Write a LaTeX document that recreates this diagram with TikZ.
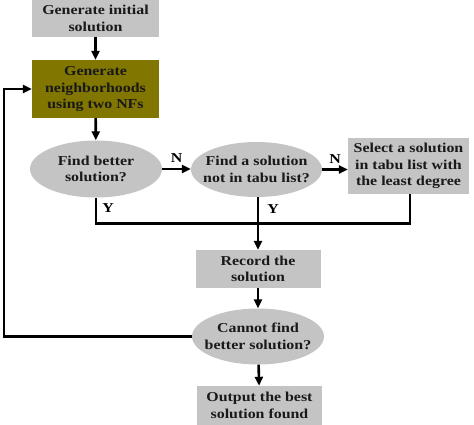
\documentclass[tikz,border=0pt]{standalone}
\usepackage{fontspec}
\setmainfont{Liberation Serif}[FakeStretch=1.17]
\usetikzlibrary{shapes.geometric,arrows.meta}
\definecolor{boxgray}{RGB}{196,196,196}
\definecolor{olivebox}{RGB}{128,118,0}
\begin{document}
\begin{tikzpicture}[x=1pt,y=-1pt,
  txt/.style={font=\fontsize{13.6}{16.5}\selectfont\bfseries, align=center, text=black!90, inner sep=0pt},
  rbox/.style={txt, rectangle, fill=boxgray},
  obox/.style={txt, rectangle, fill=olivebox},
  ebox/.style={txt, rectangle},
  efill/.style={fill=boxgray},
  conn/.style={line width=2.6pt},
  arr/.style={conn, -{Triangle[length=9pt,width=8pt]}},
  lab/.style={font=\fontsize{13.6}{16}\selectfont\bfseries, inner sep=0pt}]
\useasboundingbox (0,0) rectangle (474,425);
\node[rbox, minimum width=127pt, minimum height=37pt] (b1) at (95.5,18.5) {Generate initial\\solution};
\node[obox, minimum width=127pt, minimum height=58pt] (b2) at (95.5,89) {Generate\\neighborhoods\\using two NFs};
\fill[efill] (96,169) ellipse [x radius=66, y radius=28.5];
\node[ebox, minimum width=132pt, minimum height=57pt] (e1) at (96,169) {Find better\\solution?};
\fill[efill] (256.5,169.5) ellipse [x radius=65.5, y radius=27.5];
\node[ebox, minimum width=131pt, minimum height=55pt] (e2) at (256.5,169.5) {Find a solution\\not in tabu list?};
\node[rbox, minimum width=121pt, minimum height=56pt] (b3) at (408.5,166) {Select a solution\\in tabu list with\\the least degree};
\node[rbox, minimum width=125pt, minimum height=38pt] (b4) at (258,269) {Record the\\solution};
\fill[efill] (258,336.5) ellipse [x radius=66, y radius=28];
\node[ebox, minimum width=132pt, minimum height=56pt] (e3) at (258,336.5) {Cannot find\\better solution?};
\node[rbox, minimum width=125pt, minimum height=39pt] (b5) at (259.5,405.5) {Output the best\\solution found};
\coordinate (j1) at (96,223.5);
\coordinate (j2) at (410,223.5);
\coordinate (jm) at (258,223.5);
\coordinate (l1) at (4,336.5);
\coordinate (l2) at (4,89);
\draw[arr] (b1) -- (b2);
\draw[arr] (b2) -- (e1);
\draw[arr] (e1.east) -- (e1.east -| e2.west) node[lab, midway, above=5pt] (n1) {N};
\draw[arr] (e2.east) -- (b3.west |- e2.east) node[lab, midway, above=5pt] (n2) {N};
\draw[conn] (e1.south) -- (j1) -- (j2) -- (j2 |- b3.south);
\draw[arr] (e2.south -| jm) -- (b4.north);
\draw[arr] (b4) -- (e3);
\draw[arr] (e3) -- (b5);
\draw[arr] (e3.west) -- (l1) -- (l2) -- (b2.west);
\node[lab] (y1) at (108,208) {Y};
\node[lab] (y2) at (273,209) {Y};
\end{tikzpicture}
\end{document}
